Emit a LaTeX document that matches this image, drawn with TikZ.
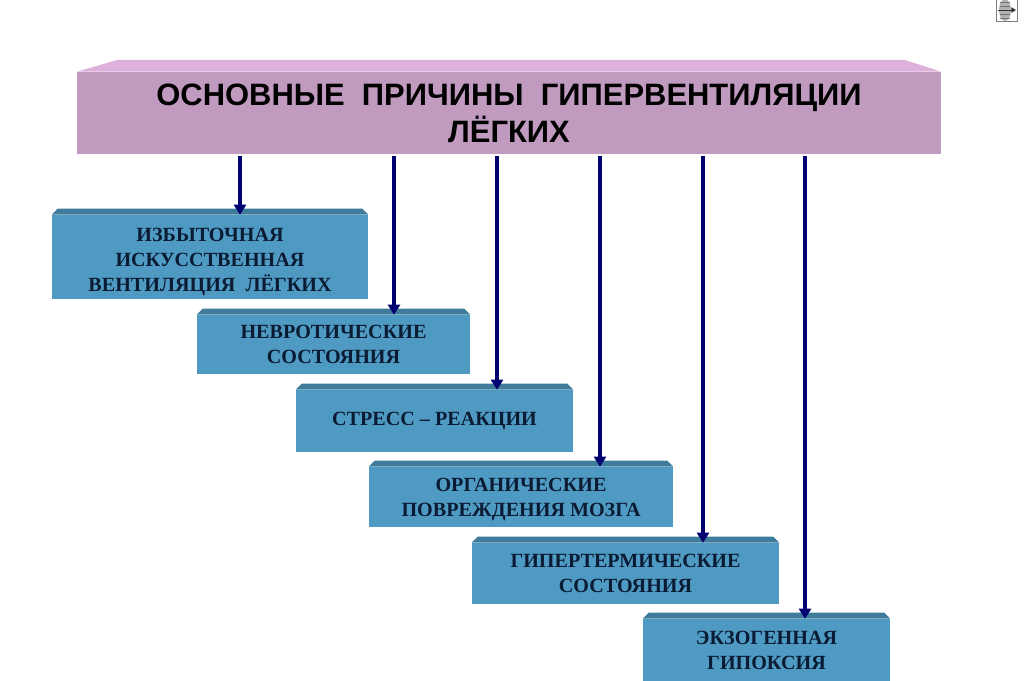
\documentclass[tikz,border=0pt]{standalone}
\usepackage{fontspec}
\setmainfont{Liberation Serif}
\newfontfamily\titlefont{Liberation Sans}
\usetikzlibrary{arrows.meta}
\definecolor{boxfront}{HTML}{4F9AC2}
\definecolor{boxtop}{HTML}{3F7C9C}
\definecolor{boxtext}{HTML}{0B1B33}
\definecolor{titlefront}{HTML}{C09ABF}
\definecolor{titletop}{HTML}{DDB1DC}
\definecolor{arrowblue}{HTML}{000070}
\tikzset{
	causebox/.style={fill=boxfront, inner sep=0pt, align=center, text=boxtext, text depth=0pt,
		font=\fontsize{15.1}{18.5}\selectfont\bfseries},
	titlebox/.style={fill=titlefront, inner sep=0pt, align=center, text=black, text depth=0pt,
		font=\titlefont\fontsize{23.2}{27.7}\selectfont\bfseries},
	linkarrow/.style={draw=arrowblue, line width=2.4pt, shorten <=1pt, -{Triangle[length=7.5pt, width=9pt]}}
}
% name, left, top, right, bottom, text
\newcommand{\causenode}[6]{
	\node[causebox, minimum width={(#4-#2)*0.75pt}, minimum height={(#5-#3)*0.75pt}]
		(#1) at ({(#2+#4)/2},{(#3+#5)/2}) {#6};
	\fill[boxtop] (#1.north west) -- ++(6,-6) -- ([xshift=-4.5pt,yshift=4.5pt]#1.north east) -- (#1.north east) -- cycle;
}
\begin{document}
\begin{tikzpicture}[x=0.75pt, y=-0.75pt]
	\useasboundingbox (0,0) rectangle (1024,681);
	% title
	\node[titlebox, minimum width=648pt, minimum height=61.5pt] (title) at (509,113)
		{ОСНОВНЫЕ\ \ ПРИЧИНЫ\ \ ГИПЕРВЕНТИЛЯЦИИ\\ЛЁГКИХ};
	\fill[titletop] (title.north west) -- (117,60) -- (905,60) -- (title.north east) -- cycle;
	% causes
	\causenode{excess}{52}{215}{368}{299}{\rule{0pt}{14pt}ИЗБЫТОЧНАЯ\\ИСКУССТВЕННАЯ\\ВЕНТИЛЯЦИЯ\ \ ЛЁГКИХ}
	\causenode{neurotic}{197}{315}{470}{374}{НЕВРОТИЧЕСКИЕ\\СОСТОЯНИЯ}
	\causenode{stress}{296}{390}{573}{452}{\raisebox{3pt}{СТРЕСС -- РЕАКЦИИ}}
	\causenode{organic}{369}{467}{673}{527}{ОРГАНИЧЕСКИЕ\\ПОВРЕЖДЕНИЯ МОЗГА}
	\causenode{thermal}{472}{543}{779}{604}{ГИПЕРТЕРМИЧЕСКИЕ\\СОСТОЯНИЯ}
	\causenode{hypoxia}{643}{619}{890}{681}{ЭКЗОГЕННАЯ\\ГИПОКСИЯ}
	% arrows
	\foreach \x/\b in {240/excess, 394/neurotic, 497/stress, 600/organic, 703/thermal, 805/hypoxia}
		\draw[linkarrow] (\x,0 |- title.south) -- (\x,0 |- \b.north);
	% corner icon
	\draw[gray, line width=0.6pt] (996,-1) rectangle (1017,21);
	\fill[gray!60] (1005,10) ellipse (6 and 11);
	\foreach \y in {2,6,14,18}
		\draw[gray!90!black, line width=0.5pt] (1000,\y) -- (1010,\y);
	\draw[black!80, line width=0.7pt, -{Triangle[length=3.5pt, width=4pt]}] (998,10) -- (1016,10);
\end{tikzpicture}
\end{document}
